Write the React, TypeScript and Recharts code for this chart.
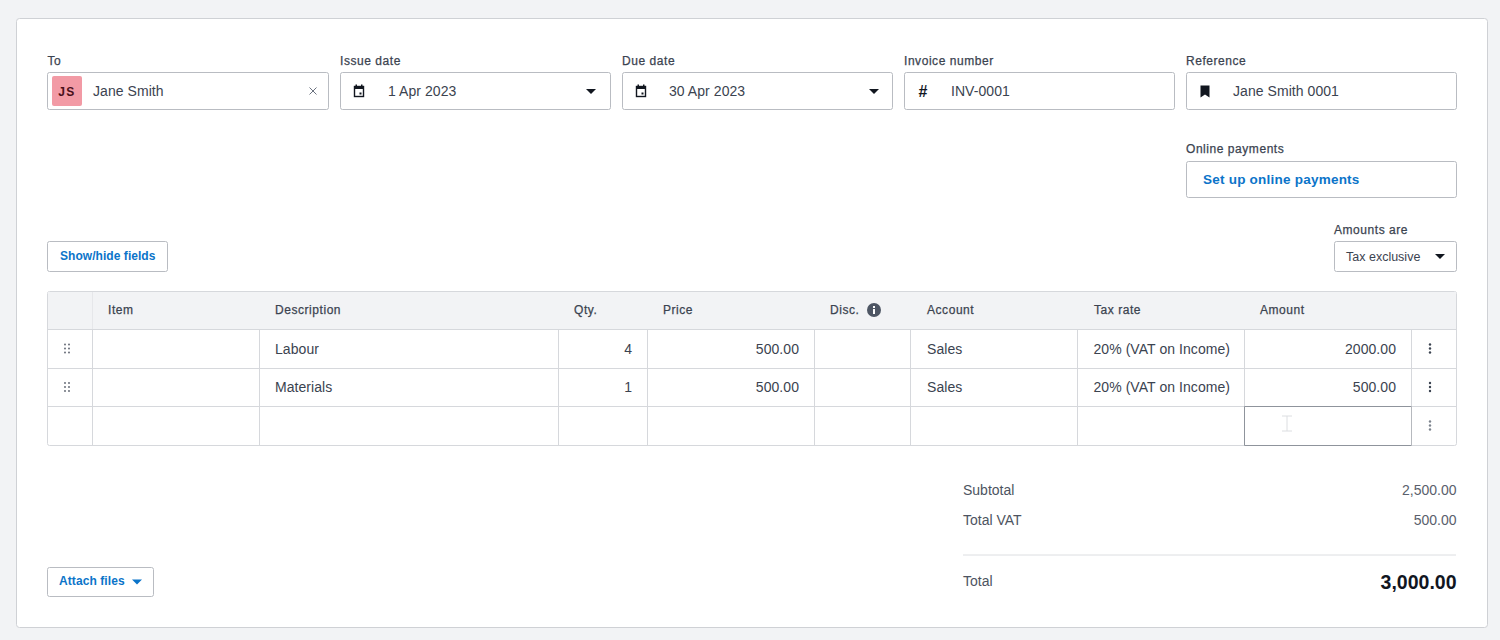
import React from 'react';
import { ScatterChart, Scatter, XAxis, YAxis, ReferenceArea, ReferenceLine } from 'recharts';

// ---- content ----
const fieldLabels = ['To', 'Issue date', 'Due date', 'Invoice number', 'Reference'];
const fieldValues = ['Jane Smith', '1 Apr 2023', '30 Apr 2023', 'INV-0001', 'Jane Smith 0001'];
const headers = ['Item', 'Description', 'Qty.', 'Price', 'Disc.', 'Account', 'Tax rate', 'Amount'];
const descriptions = ['Labour', 'Materials'];
const quantities = ['4', '1'];
const prices = ['500.00', '500.00'];
const accounts = ['Sales', 'Sales'];
const taxRates = ['20% (VAT on Income)', '20% (VAT on Income)'];
const amounts = ['2000.00', '500.00'];
const summaryLabels = ['Subtotal', 'Total VAT', 'Total'];
const summaryValues = ['2,500.00', '500.00', '3,000.00'];

// ---- layout ----
const W = 1500;
const H = 640;
const FONT = '"Liberation Sans", Arial, sans-serif';
const INK = '#3b4350';
const DARK = '#11161f';
const BLUE = '#0b74c9';
const LINE = '#d6d8dc';
const BOX = '#b9bcc2';
const fieldX = [[47, 329], [340, 611], [622, 893], [904, 1175], [1186, 1457]];
const fieldLabelX = [47.5, 340, 622, 904, 1186];
const fieldTextX = [93, 388, 669, 951, 1233];
const headerX = [108, 275, 574, 663, 830, 927, 1094, 1260];
const colLines = [92.5, 259.5, 558.5, 647.5, 814.5, 910.5, 1077.5, 1244.5, 1411.5];
const rowLines = [329.5, 368.5, 406.5];
const rowBase = [353.5, 392];
const rowDots = [348.5, 387, 425.5];

type T = { x: number; y: number; text?: string; icon?: string; size?: number; weight?: number | string; color?: string; anchor?: string; ls?: number; stroke?: number };
const texts: T[] = [];
const LABEL = { size: 12, color: INK, stroke: 0.25, ls: 0.55 };
const BODY = { size: 14, color: INK, ls: 0.06 };
fieldLabels.forEach((t, i) => texts.push({ x: fieldLabelX[i], y: 64.5, text: t, ...LABEL }));
fieldValues.forEach((t, i) => texts.push({ x: fieldTextX[i], y: 95.5, text: t, ...BODY }));
texts.push({ x: 1186, y: 152.5, text: 'Online payments', ...LABEL });
texts.push({ x: 1203, y: 184, text: 'Set up online payments', size: 13.5, weight: 700, color: BLUE, ls: 0.23 });
texts.push({ x: 1334, y: 233.5, text: 'Amounts are', ...LABEL });
texts.push({ x: 1346, y: 260.5, text: 'Tax exclusive', size: 12.5, color: INK });
texts.push({ x: 60, y: 260, text: 'Show/hide fields', size: 12, weight: 700, color: BLUE, ls: 0.05 });
texts.push({ x: 59, y: 585, text: 'Attach files', size: 12, weight: 700, color: BLUE, ls: 0.08 });
headers.forEach((t, i) => texts.push({ x: headerX[i], y: 314, text: t, ...LABEL }));
descriptions.forEach((t, i) => {
  texts.push({ x: 275, y: rowBase[i], text: t, ...BODY });
  texts.push({ x: 632, y: rowBase[i], text: quantities[i], ...BODY, anchor: 'end' });
  texts.push({ x: 799, y: rowBase[i], text: prices[i], ...BODY, anchor: 'end' });
  texts.push({ x: 927, y: rowBase[i], text: accounts[i], ...BODY });
  texts.push({ x: 1093.5, y: rowBase[i], text: taxRates[i], ...BODY });
  texts.push({ x: 1396, y: rowBase[i], text: amounts[i], ...BODY, anchor: 'end' });
});
const summaryBase = [495, 525, 586];
summaryLabels.forEach((t, i) => texts.push({ x: 963, y: summaryBase[i], text: t, size: 14, color: '#4d5461' }));
summaryValues.forEach((t, i) => texts.push(
  i === 2
    ? { x: 1456.5, y: 589, text: t, size: 19.5, weight: 700, color: DARK, anchor: 'end' }
    : { x: 1456.5, y: summaryBase[i], text: t, size: 14, color: '#5a606c', anchor: 'end' },
));

const icons: T[] = [
  { x: 359, y: 91, icon: 'cal' }, { x: 641, y: 91, icon: 'cal' }, { x: 1205, y: 91, icon: 'book' },
  { x: 313, y: 91, icon: 'x' }, { x: 923, y: 91, icon: 'hash' },
  { x: 591, y: 91, icon: 'caret' }, { x: 874, y: 91, icon: 'caret' }, { x: 1440, y: 256, icon: 'caret' },
  { x: 137, y: 581.5, icon: 'caretBlue' }, { x: 874, y: 310, icon: 'info' },
  { x: 67, y: rowDots[0], icon: 'grip' }, { x: 67, y: rowDots[1], icon: 'grip' },
  { x: 1430, y: rowDots[0], icon: 'more' }, { x: 1430, y: rowDots[1], icon: 'more' }, { x: 1430, y: rowDots[2], icon: 'moreFaint' },
  { x: 1287, y: 423, icon: 'ibeam' }, { x: 67, y: 91, icon: 'avatar' },
];

function TextMark(props: any) {
  const d: T = props.payload;
  return (
    <text x={props.cx} y={props.cy} fontFamily={FONT} fontSize={d.size} fontWeight={d.weight ?? 400} fill={d.color}
      stroke={d.stroke ? d.color : 'none'} strokeWidth={d.stroke ?? 0} textAnchor={d.anchor ?? 'start'} letterSpacing={d.ls ?? 0}>
      {d.text}
    </text>
  );
}

function IconMark(props: any) {
  const { cx: x, cy: y } = props;
  const kind: string = props.payload.icon;
  const dots = (pts: number[][], fill: string, r: number) => pts.map((p, i) => <circle key={i} cx={x + p[0]} cy={y + p[1]} r={r} fill={fill} />);
  switch (kind) {
    case 'avatar':
      return (
        <g>
          <rect x={x - 15} y={y - 15} width={30} height={30} rx={2} fill="#f29aa5" />
          <text x={x} y={y + 4.5} textAnchor="middle" fontFamily={FONT} fontSize={12} fontWeight={700} letterSpacing={1.5} fill="#4a0f1a">JS</text>
        </g>
      );
    case 'cal':
      return (
        <g fill="none" stroke={DARK}>
          <rect x={x - 4.5} y={y - 4.5} width={9} height={10} strokeWidth={1.4} />
          <rect x={x - 5} y={y - 5} width={10} height={3} fill={DARK} stroke="none" />
          <rect x={x - 3.5} y={y - 6.5} width={1.5} height={2} fill={DARK} stroke="none" />
          <rect x={x + 2} y={y - 6.5} width={1.5} height={2} fill={DARK} stroke="none" />
          <rect x={x + 0.5} y={y + 1.5} width={2} height={2} fill={DARK} stroke="none" />
        </g>
      );
    case 'book':
      return <path d={`M${x - 4.5} ${y - 5.5}h9v12l-4.5 -3l-4.5 3z`} fill={DARK} />;
    case 'x':
      return <path d={`M${x - 3.5} ${y - 3.5}l7 7M${x + 3.5} ${y - 3.5}l-7 7`} stroke="#6b7280" strokeWidth={1} fill="none" />;
    case 'hash':
      return <text x={x} y={y + 5.5} textAnchor="middle" fontFamily={FONT} fontSize={16} fontWeight={700} fill={DARK}>#</text>;
    case 'caret':
      return <path d={`M${x - 5} ${y - 2}h10l-5 5z`} fill={DARK} />;
    case 'caretBlue':
      return <path d={`M${x - 5} ${y - 2}h10l-5 5z`} fill={BLUE} />;
    case 'info':
      return (
        <g>
          <circle cx={x} cy={y} r={7} fill="#4e5664" />
          <rect x={x - 1} y={y - 1} width={2} height={5} fill="#fff" />
          <rect x={x - 1} y={y - 4} width={2} height={2} fill="#fff" />
        </g>
      );
    case 'grip':
      return <g>{dots([[-2, -4], [2, -4], [-2, 0], [2, 0], [-2, 4], [2, 4]], '#5a606c', 0.9)}</g>;
    case 'more':
      return <g>{dots([[0, -4], [0, 0], [0, 4]], '#3b4350', 1.2)}</g>;
    case 'moreFaint':
      return <g>{dots([[0, -4], [0, 0], [0, 4]], '#7d838e', 1.2)}</g>;
    case 'ibeam':
      return <path d={`M${x - 5} ${y - 7}h10M${x - 5} ${y + 8}h10M${x} ${y - 7}v15`} stroke="#dcdee1" strokeWidth={1} fill="none" />;
    default:
      return <g />;
  }
}

function Box(fill: string, stroke: string, r: number) {
  return (p: any) => <rect x={p.x + 0.5} y={p.y + 0.5} width={p.width - 1} height={p.height - 1} rx={r} fill={fill} stroke={stroke} />;
}

const boxes = [
  ...fieldX.map(([a, b]) => [a, b, 72, 110]),
  [1186, 1457, 161, 198],
  [1334, 1457, 241, 272],
  [47, 168, 241, 272],
  [47, 154, 567, 597],
];

const ACTIVE = '#8f949c';
const activeEdges = [
  [1244.5, 406.5, 1411.5, 406.5, ACTIVE],
  [1244.5, 445.5, 1411.5, 445.5, ACTIVE],
  [1244.5, 406.5, 1244.5, 445.5, ACTIVE],
  [1411.5, 406.5, 1411.5, 445.5, '#b6b9be'],
];

export default function App() {
  return (
    <div style={{ position: 'fixed', left: 0, top: 0, width: W, height: H, background: '#f2f3f5' }}>
      <ScatterChart width={W} height={H} margin={{ top: 0, right: 0, bottom: 0, left: 0 }}>
        <XAxis type="number" dataKey="x" domain={[0, W]} hide allowDataOverflow />
        <YAxis type="number" dataKey="y" domain={[0, H]} reversed hide allowDataOverflow />
        <ReferenceArea x1={16} x2={1488} y1={18} y2={628} shape={Box('#ffffff', '#cfd1d5', 3)} />
        {boxes.map((b, i) => (
          <ReferenceArea key={i} x1={b[0]} x2={b[1]} y1={b[2]} y2={b[3]} shape={Box('#ffffff', BOX, 2)} />
        ))}
        <ReferenceArea x1={47} x2={1457} y1={291} y2={446} shape={Box('#ffffff', LINE, 2)} />
        <ReferenceArea x1={48} x2={1456} y1={292} y2={329} shape={(p: any) => <rect x={p.x} y={p.y} width={p.width} height={p.height} fill="#f2f3f5" />} />
        {rowLines.map((y) => (
          <ReferenceLine key={y} stroke={LINE} strokeWidth={1} segment={[{ x: 47, y }, { x: 1456, y }]} />
        ))}
        <ReferenceLine stroke="#e6e7ea" strokeWidth={1} segment={[{ x: colLines[0], y: 292 }, { x: colLines[0], y: 329 }]} />
        {colLines.map((x) => (
          <ReferenceLine key={x} stroke={LINE} strokeWidth={1} segment={[{ x, y: 330 }, { x, y: 445 }]} />
        ))}
        {activeEdges.map((e, i) => (
          <ReferenceLine key={i} stroke={e[4] as string} strokeWidth={1} segment={[{ x: e[0] as number, y: e[1] as number }, { x: e[2] as number, y: e[3] as number }]} />
        ))}
        <ReferenceLine stroke="#dcdee1" strokeWidth={1} segment={[{ x: 963, y: 555 }, { x: 1456, y: 555 }]} />
        <Scatter data={texts} dataKey="y" isAnimationActive={false} shape={TextMark} />
        <Scatter data={icons} dataKey="y" isAnimationActive={false} shape={IconMark} />
      </ScatterChart>
    </div>
  );
}
